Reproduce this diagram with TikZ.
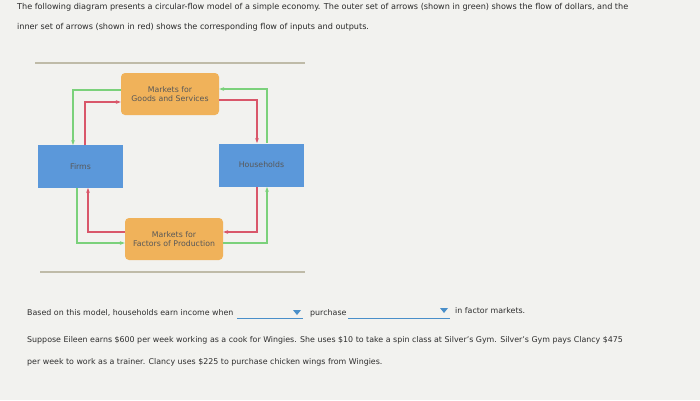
\documentclass[tikz,border=0pt]{standalone}
\usepackage{fontspec}
\setmainfont{DejaVu Sans}
\usetikzlibrary{arrows.meta}
\definecolor{bg}{HTML}{F2F2EF}
\definecolor{orng}{HTML}{F0B25A}
\definecolor{blu}{HTML}{5B98DA}
\definecolor{grn}{HTML}{7BD17B}
\definecolor{rd}{HTML}{D9576A}
\definecolor{txt}{HTML}{2E2E2E}
\definecolor{rule}{HTML}{BFBBA8}
\definecolor{dd}{HTML}{4A8FC9}
\tikzset{
 mkt/.style={fill=orng,rounded corners=4pt,minimum width=98pt,minimum height=42pt,align=center,font=\fontsize{7.8}{9}\selectfont,text=txt!80},
 agent/.style={fill=blu,minimum width=85pt,minimum height=43pt,font=\fontsize{7.8}{9}\selectfont,text=txt!80},
 gflow/.style={draw=grn,line width=1.6pt,-{Stealth[length=5pt]}},
 rflow/.style={draw=rd,line width=1.6pt,-{Stealth[length=5pt]}},
 lbl/.style={anchor=west,inner sep=0,font=\fontsize{7.9}{9}\selectfont,text=txt},
 hdr/.style={anchor=west,inner sep=0,font=\fontsize{8.1}{9}\selectfont,text=txt!90!black}
}
\begin{document}
\begin{tikzpicture}[x=1pt,y=-1pt]
\fill[bg] (0,0) rectangle (700,400);
\node[hdr] (h1) at (17,7) {The following diagram presents a circular-flow model of a simple economy. The outer set of arrows (shown in green) shows the flow of dollars, and the};
\node[hdr] (h2) at (17,27) {inner set of arrows (shown in red) shows the corresponding flow of inputs and outputs.};
\draw[rule,line width=1.5pt] (35,63) -- (305,63);
\draw[rule,line width=1.5pt] (40,272) -- (305,272);
\node[mkt] (goods) at (170,94) {Markets for\\Goods and Services};
\node[mkt] (fact) at (174,239) {Markets for\\Factors of Production};
\node[agent] (firms) at (80.5,166.5) {Firms};
\node[agent] (hh) at (261.5,165) {Households};
% green outer
\draw[gflow] (goods.west|-0,90) -- (73,90) -- (73,145);
\draw[gflow] (267,143) -- (267,89) -- (goods.east|-0,89);
\draw[gflow] (77,188) -- (77,243) -- (fact.west|-0,243);
\draw[gflow] (fact.east|-0,243) -- (267,243) -- (267,187);
% red inner
\draw[rflow] (85,145) -- (85,102) -- (goods.west|-0,102);
\draw[rflow] (goods.east|-0,100) -- (257,100) -- (257,143);
\draw[rflow] (257,187) -- (257,232) -- (fact.east|-0,232);
\draw[rflow] (fact.west|-0,232) -- (88,232) -- (88,188);
\node[lbl] (q1) at (27,313) {Based on this model, households earn income when};
\draw[dd,line width=0.7pt] (237,318) -- (303,318);
\fill[dd] (293,310) -- (301,310) -- (297,315) -- cycle;
\node[lbl] (q2) at (310,313) {purchase};
\draw[dd,line width=0.7pt] (348,318) -- (450,318);
\fill[dd] (440,308) -- (448,308) -- (444,313) -- cycle;
\node[lbl] (q3) at (455,311) {in factor markets.};
\node[lbl] (p1) at (27,340) {Suppose Eileen earns \$600 per week working as a cook for Wingies. She uses \$10 to take a spin class at Silver's Gym. Silver's Gym pays Clancy \$475};
\node[lbl] (p2) at (27,362) {per week to work as a trainer. Clancy uses \$225 to purchase chicken wings from Wingies.};
\end{tikzpicture}
\end{document}
